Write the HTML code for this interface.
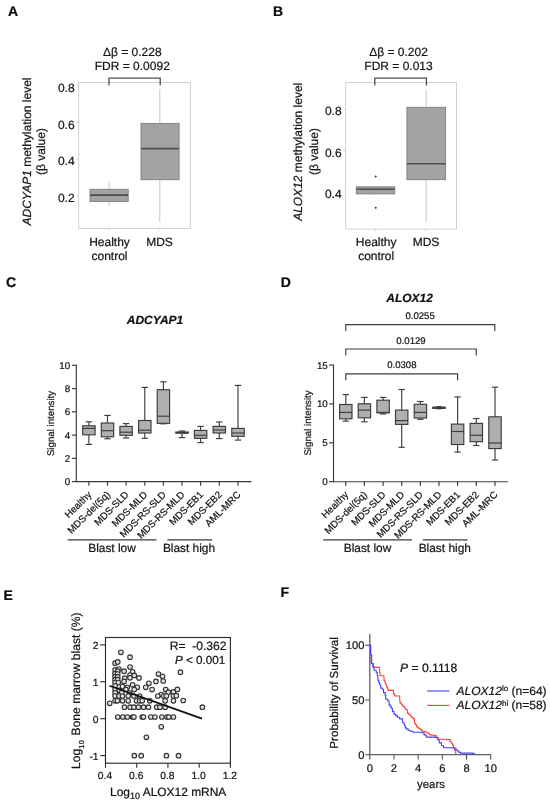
<!DOCTYPE html>
<html lang="en">
<head>
<meta charset="utf-8">
<title>Figure</title>
<style>
html,body{margin:0;padding:0;background:#fff;}
body{width:550px;height:804px;overflow:hidden;}
text{text-rendering:geometricPrecision;stroke:#141414;stroke-width:0.22px;paint-order:stroke fill;}
svg{display:block;font-family:'Liberation Sans', sans-serif;}
</style>
</head>
<body>
<svg width="550" height="804" viewBox="0 0 550 804" style="font-family:'Liberation Sans', sans-serif">
<rect x="0" y="0" width="550" height="804" fill="#ffffff"/>
<text x="8.0" y="15.8" font-size="14" font-weight="bold" fill="#0a0a0a">A</text>
<text x="273.0" y="15.8" font-size="14" font-weight="bold" fill="#0a0a0a">B</text>
<text x="5.9" y="286.7" font-size="14" font-weight="bold" fill="#0a0a0a">C</text>
<text x="280.8" y="286.7" font-size="14" font-weight="bold" fill="#0a0a0a">D</text>
<text x="3.5" y="599.9" font-size="14" font-weight="bold" fill="#0a0a0a">E</text>
<text x="280.5" y="596.9" font-size="14" font-weight="bold" fill="#0a0a0a">F</text>
<rect x="78.7" y="82.5" width="111.7" height="146.1" fill="none" stroke="#cdcdcd" stroke-width="0.9"/>
<line x1="76.8" y1="85.8" x2="78.7" y2="85.8" stroke="#cdcdcd" stroke-width="0.9"/>
<text x="74.6" y="91.9" font-size="12" text-anchor="end" fill="#141414">0.8</text>
<line x1="76.8" y1="122.5" x2="78.7" y2="122.5" stroke="#cdcdcd" stroke-width="0.9"/>
<text x="74.6" y="128.6" font-size="12" text-anchor="end" fill="#141414">0.6</text>
<line x1="76.8" y1="159.2" x2="78.7" y2="159.2" stroke="#cdcdcd" stroke-width="0.9"/>
<text x="74.6" y="165.3" font-size="12" text-anchor="end" fill="#141414">0.4</text>
<line x1="76.8" y1="195.9" x2="78.7" y2="195.9" stroke="#cdcdcd" stroke-width="0.9"/>
<text x="74.6" y="202.0" font-size="12" text-anchor="end" fill="#141414">0.2</text>
<line x1="109.2" y1="182.4" x2="109.2" y2="189.3" stroke="#c6c6c6" stroke-width="1"/>
<line x1="109.2" y1="201.5" x2="109.2" y2="206.6" stroke="#c6c6c6" stroke-width="1"/>
<rect x="90.0" y="189.3" width="38.2" height="12.2" fill="#a3a3a3" stroke="#7f7f7f" stroke-width="0.9"/>
<line x1="90.0" y1="195.1" x2="128.2" y2="195.1" stroke="#4d4d4d" stroke-width="1.6"/>
<line x1="109.2" y1="228.6" x2="109.2" y2="230.5" stroke="#cdcdcd" stroke-width="0.9"/>
<line x1="159.8" y1="89.0" x2="159.8" y2="123.4" stroke="#c6c6c6" stroke-width="1"/>
<line x1="159.8" y1="179.7" x2="159.8" y2="222.3" stroke="#c6c6c6" stroke-width="1"/>
<rect x="141.0" y="123.4" width="38.1" height="56.3" fill="#a3a3a3" stroke="#7f7f7f" stroke-width="0.9"/>
<line x1="141.0" y1="148.6" x2="179.1" y2="148.6" stroke="#4d4d4d" stroke-width="1.6"/>
<line x1="159.8" y1="228.6" x2="159.8" y2="230.5" stroke="#cdcdcd" stroke-width="0.9"/>
<text x="109.5" y="245.7" font-size="12" text-anchor="middle" fill="#141414">Healthy</text>
<text x="109.5" y="259.9" font-size="12" text-anchor="middle" fill="#141414">control</text>
<text x="159.5" y="245.7" font-size="12" text-anchor="middle" fill="#141414">MDS</text>
<text x="132.3" y="55.8" font-size="12" text-anchor="middle" fill="#141414">Δβ = 0.228</text>
<text x="132.3" y="70.4" font-size="12" text-anchor="middle" fill="#141414">FDR = 0.0092</text>
<path d="M109.0 85.4 V78.2 H160.2 V85.4" fill="none" stroke="#505050" stroke-width="1.3"/>
<text x="31.4" y="151.5" font-size="12" text-anchor="middle" fill="#141414" transform="rotate(-90 31.4 151.5)"><tspan font-style="italic">ADCYAP1</tspan> methylation level</text>
<text x="44.8" y="151.5" font-size="12" text-anchor="middle" fill="#141414" transform="rotate(-90 44.8 151.5)">(β value)</text>
<rect x="345.7" y="82.6" width="110.8" height="146.5" fill="none" stroke="#cdcdcd" stroke-width="0.9"/>
<line x1="343.8" y1="109.2" x2="345.7" y2="109.2" stroke="#cdcdcd" stroke-width="0.9"/>
<text x="341.6" y="115.3" font-size="12" text-anchor="end" fill="#141414">0.8</text>
<line x1="343.8" y1="150.6" x2="345.7" y2="150.6" stroke="#cdcdcd" stroke-width="0.9"/>
<text x="341.6" y="156.7" font-size="12" text-anchor="end" fill="#141414">0.6</text>
<line x1="343.8" y1="192.1" x2="345.7" y2="192.1" stroke="#cdcdcd" stroke-width="0.9"/>
<text x="341.6" y="198.2" font-size="12" text-anchor="end" fill="#141414">0.4</text>
<line x1="375.6" y1="185.8" x2="375.6" y2="186.8" stroke="#c6c6c6" stroke-width="1"/>
<line x1="375.6" y1="193.9" x2="375.6" y2="195.0" stroke="#c6c6c6" stroke-width="1"/>
<rect x="356.3" y="186.8" width="38.5" height="7.1" fill="#a3a3a3" stroke="#7f7f7f" stroke-width="0.9"/>
<line x1="356.3" y1="189.3" x2="394.8" y2="189.3" stroke="#4d4d4d" stroke-width="1.6"/>
<line x1="375.6" y1="229.1" x2="375.6" y2="231.0" stroke="#cdcdcd" stroke-width="0.9"/>
<line x1="426.2" y1="89.6" x2="426.2" y2="107.3" stroke="#c6c6c6" stroke-width="1"/>
<line x1="426.2" y1="179.7" x2="426.2" y2="222.4" stroke="#c6c6c6" stroke-width="1"/>
<rect x="406.9" y="107.3" width="38.7" height="72.4" fill="#a3a3a3" stroke="#7f7f7f" stroke-width="0.9"/>
<line x1="406.9" y1="163.8" x2="445.6" y2="163.8" stroke="#4d4d4d" stroke-width="1.6"/>
<line x1="426.2" y1="229.1" x2="426.2" y2="231.0" stroke="#cdcdcd" stroke-width="0.9"/>
<circle cx="375.7" cy="176.5" r="1.0" fill="#333"/>
<circle cx="375.7" cy="207.8" r="1.0" fill="#333"/>
<text x="376.2" y="245.7" font-size="12" text-anchor="middle" fill="#141414">Healthy</text>
<text x="376.2" y="259.9" font-size="12" text-anchor="middle" fill="#141414">control</text>
<text x="426" y="245.7" font-size="12" text-anchor="middle" fill="#141414">MDS</text>
<text x="398.5" y="55.8" font-size="12" text-anchor="middle" fill="#141414">Δβ = 0.202</text>
<text x="398.5" y="70.4" font-size="12" text-anchor="middle" fill="#141414">FDR = 0.013</text>
<path d="M374.8 85.4 V78.2 H426.4 V85.4" fill="none" stroke="#505050" stroke-width="1.3"/>
<text x="302.5" y="151.8" font-size="12" text-anchor="middle" fill="#141414" transform="rotate(-90 302.5 151.8)"><tspan font-style="italic">ALOX12</tspan> methylation level</text>
<text x="318.2" y="151.5" font-size="12" text-anchor="middle" fill="#141414" transform="rotate(-90 318.2 151.5)">(β value)</text>
<line x1="76.3" y1="364.8" x2="76.3" y2="482.1" stroke="#3c3c3c" stroke-width="1.15"/>
<line x1="75.8" y1="481.6" x2="251.4" y2="481.6" stroke="#3c3c3c" stroke-width="1.15"/>
<line x1="71.9" y1="365.3" x2="76.3" y2="365.3" stroke="#3c3c3c" stroke-width="1.15"/>
<text x="70.1" y="368.7" font-size="9.8" text-anchor="end" fill="#141414">10</text>
<line x1="71.9" y1="388.6" x2="76.3" y2="388.6" stroke="#3c3c3c" stroke-width="1.15"/>
<text x="70.1" y="392.0" font-size="9.8" text-anchor="end" fill="#141414">8</text>
<line x1="71.9" y1="411.8" x2="76.3" y2="411.8" stroke="#3c3c3c" stroke-width="1.15"/>
<text x="70.1" y="415.2" font-size="9.8" text-anchor="end" fill="#141414">6</text>
<line x1="71.9" y1="435.1" x2="76.3" y2="435.1" stroke="#3c3c3c" stroke-width="1.15"/>
<text x="70.1" y="438.5" font-size="9.8" text-anchor="end" fill="#141414">4</text>
<line x1="71.9" y1="458.3" x2="76.3" y2="458.3" stroke="#3c3c3c" stroke-width="1.15"/>
<text x="70.1" y="461.7" font-size="9.8" text-anchor="end" fill="#141414">2</text>
<line x1="71.9" y1="481.6" x2="76.3" y2="481.6" stroke="#3c3c3c" stroke-width="1.15"/>
<text x="70.1" y="485.0" font-size="9.8" text-anchor="end" fill="#141414">0</text>
<text x="54" y="423.5" font-size="9.7" text-anchor="middle" fill="#141414" transform="rotate(-90 54 423.5)">Signal intensity</text>
<text x="155.0" y="324.4" font-size="12.0" text-anchor="middle" font-weight="bold" font-style="italic" fill="#111">ADCYAP1</text>
<line x1="88.9" y1="481.6" x2="88.9" y2="485.8" stroke="#3c3c3c" stroke-width="1.15"/>
<line x1="107.5" y1="481.6" x2="107.5" y2="485.8" stroke="#3c3c3c" stroke-width="1.15"/>
<line x1="126.1" y1="481.6" x2="126.1" y2="485.8" stroke="#3c3c3c" stroke-width="1.15"/>
<line x1="144.8" y1="481.6" x2="144.8" y2="485.8" stroke="#3c3c3c" stroke-width="1.15"/>
<line x1="163.4" y1="481.6" x2="163.4" y2="485.8" stroke="#3c3c3c" stroke-width="1.15"/>
<line x1="182.0" y1="481.6" x2="182.0" y2="485.8" stroke="#3c3c3c" stroke-width="1.15"/>
<line x1="200.6" y1="481.6" x2="200.6" y2="485.8" stroke="#3c3c3c" stroke-width="1.15"/>
<line x1="219.3" y1="481.6" x2="219.3" y2="485.8" stroke="#3c3c3c" stroke-width="1.15"/>
<line x1="238.0" y1="481.6" x2="238.0" y2="485.8" stroke="#3c3c3c" stroke-width="1.15"/>
<line x1="88.9" y1="421.8" x2="88.9" y2="425.8" stroke="#3c3c3c" stroke-width="1.15"/>
<line x1="88.9" y1="434.8" x2="88.9" y2="444.4" stroke="#3c3c3c" stroke-width="1.15"/>
<line x1="85.7" y1="421.8" x2="92.1" y2="421.8" stroke="#3c3c3c" stroke-width="1.15"/>
<line x1="85.7" y1="444.4" x2="92.1" y2="444.4" stroke="#3c3c3c" stroke-width="1.15"/>
<rect x="82.7" y="425.8" width="12.4" height="9.0" fill="#afafaf" stroke="#3c3c3c" stroke-width="1.15"/>
<line x1="82.7" y1="428.4" x2="95.1" y2="428.4" stroke="#3c3c3c" stroke-width="1.15"/>
<line x1="107.5" y1="415.4" x2="107.5" y2="423.0" stroke="#3c3c3c" stroke-width="1.15"/>
<line x1="107.5" y1="436.8" x2="107.5" y2="438.8" stroke="#3c3c3c" stroke-width="1.15"/>
<line x1="104.3" y1="415.4" x2="110.7" y2="415.4" stroke="#3c3c3c" stroke-width="1.15"/>
<line x1="104.3" y1="438.8" x2="110.7" y2="438.8" stroke="#3c3c3c" stroke-width="1.15"/>
<rect x="101.3" y="423.0" width="12.4" height="13.8" fill="#afafaf" stroke="#3c3c3c" stroke-width="1.15"/>
<line x1="101.3" y1="430.7" x2="113.7" y2="430.7" stroke="#3c3c3c" stroke-width="1.15"/>
<line x1="126.1" y1="423.6" x2="126.1" y2="426.4" stroke="#3c3c3c" stroke-width="1.15"/>
<line x1="126.1" y1="435.3" x2="126.1" y2="438.0" stroke="#3c3c3c" stroke-width="1.15"/>
<line x1="122.9" y1="423.6" x2="129.3" y2="423.6" stroke="#3c3c3c" stroke-width="1.15"/>
<line x1="122.9" y1="438.0" x2="129.3" y2="438.0" stroke="#3c3c3c" stroke-width="1.15"/>
<rect x="119.9" y="426.4" width="12.4" height="8.9" fill="#afafaf" stroke="#3c3c3c" stroke-width="1.15"/>
<line x1="119.9" y1="432.2" x2="132.3" y2="432.2" stroke="#3c3c3c" stroke-width="1.15"/>
<line x1="144.8" y1="387.4" x2="144.8" y2="420.5" stroke="#3c3c3c" stroke-width="1.15"/>
<line x1="144.8" y1="433.0" x2="144.8" y2="438.3" stroke="#3c3c3c" stroke-width="1.15"/>
<line x1="141.6" y1="387.4" x2="148.0" y2="387.4" stroke="#3c3c3c" stroke-width="1.15"/>
<line x1="141.6" y1="438.3" x2="148.0" y2="438.3" stroke="#3c3c3c" stroke-width="1.15"/>
<rect x="138.6" y="420.5" width="12.4" height="12.5" fill="#afafaf" stroke="#3c3c3c" stroke-width="1.15"/>
<line x1="138.6" y1="430.2" x2="151.0" y2="430.2" stroke="#3c3c3c" stroke-width="1.15"/>
<line x1="163.4" y1="381.8" x2="163.4" y2="389.7" stroke="#3c3c3c" stroke-width="1.15"/>
<line x1="163.4" y1="423.3" x2="163.4" y2="423.8" stroke="#3c3c3c" stroke-width="1.15"/>
<line x1="160.2" y1="381.8" x2="166.6" y2="381.8" stroke="#3c3c3c" stroke-width="1.15"/>
<line x1="160.2" y1="423.8" x2="166.6" y2="423.8" stroke="#3c3c3c" stroke-width="1.15"/>
<rect x="157.2" y="389.7" width="12.4" height="33.6" fill="#afafaf" stroke="#3c3c3c" stroke-width="1.15"/>
<line x1="157.2" y1="416.2" x2="169.6" y2="416.2" stroke="#3c3c3c" stroke-width="1.15"/>
<line x1="182.0" y1="431.0" x2="182.0" y2="432.0" stroke="#3c3c3c" stroke-width="1.15"/>
<line x1="182.0" y1="433.2" x2="182.0" y2="437.6" stroke="#3c3c3c" stroke-width="1.15"/>
<line x1="178.8" y1="431.0" x2="185.2" y2="431.0" stroke="#3c3c3c" stroke-width="1.15"/>
<line x1="178.8" y1="437.6" x2="185.2" y2="437.6" stroke="#3c3c3c" stroke-width="1.15"/>
<rect x="175.8" y="432.0" width="12.4" height="1.2" fill="#afafaf" stroke="#3c3c3c" stroke-width="1.15"/>
<line x1="175.8" y1="432.6" x2="188.2" y2="432.6" stroke="#3c3c3c" stroke-width="1.15"/>
<line x1="200.6" y1="426.4" x2="200.6" y2="430.4" stroke="#3c3c3c" stroke-width="1.15"/>
<line x1="200.6" y1="438.3" x2="200.6" y2="442.6" stroke="#3c3c3c" stroke-width="1.15"/>
<line x1="197.4" y1="426.4" x2="203.8" y2="426.4" stroke="#3c3c3c" stroke-width="1.15"/>
<line x1="197.4" y1="442.6" x2="203.8" y2="442.6" stroke="#3c3c3c" stroke-width="1.15"/>
<rect x="194.4" y="430.4" width="12.4" height="7.9" fill="#afafaf" stroke="#3c3c3c" stroke-width="1.15"/>
<line x1="194.4" y1="435.3" x2="206.8" y2="435.3" stroke="#3c3c3c" stroke-width="1.15"/>
<line x1="219.3" y1="422.0" x2="219.3" y2="426.4" stroke="#3c3c3c" stroke-width="1.15"/>
<line x1="219.3" y1="433.0" x2="219.3" y2="438.6" stroke="#3c3c3c" stroke-width="1.15"/>
<line x1="216.1" y1="422.0" x2="222.5" y2="422.0" stroke="#3c3c3c" stroke-width="1.15"/>
<line x1="216.1" y1="438.6" x2="222.5" y2="438.6" stroke="#3c3c3c" stroke-width="1.15"/>
<rect x="213.1" y="426.4" width="12.4" height="6.6" fill="#afafaf" stroke="#3c3c3c" stroke-width="1.15"/>
<line x1="213.1" y1="430.0" x2="225.5" y2="430.0" stroke="#3c3c3c" stroke-width="1.15"/>
<line x1="238.0" y1="385.4" x2="238.0" y2="428.4" stroke="#3c3c3c" stroke-width="1.15"/>
<line x1="238.0" y1="436.3" x2="238.0" y2="440.1" stroke="#3c3c3c" stroke-width="1.15"/>
<line x1="234.8" y1="385.4" x2="241.2" y2="385.4" stroke="#3c3c3c" stroke-width="1.15"/>
<line x1="234.8" y1="440.1" x2="241.2" y2="440.1" stroke="#3c3c3c" stroke-width="1.15"/>
<rect x="231.8" y="428.4" width="12.4" height="7.9" fill="#afafaf" stroke="#3c3c3c" stroke-width="1.15"/>
<line x1="231.8" y1="433.0" x2="244.2" y2="433.0" stroke="#3c3c3c" stroke-width="1.15"/>
<text x="92.1" y="495.2" font-size="9.75" text-anchor="end" fill="#141414" transform="rotate(-45 92.1 495.2)">Healthy</text>
<text x="110.7" y="495.2" font-size="9.75" text-anchor="end" fill="#141414" transform="rotate(-45 110.7 495.2)">MDS-del(5q)</text>
<text x="129.3" y="495.2" font-size="9.75" text-anchor="end" fill="#141414" transform="rotate(-45 129.3 495.2)">MDS-SLD</text>
<text x="148.0" y="495.2" font-size="9.75" text-anchor="end" fill="#141414" transform="rotate(-45 148.0 495.2)">MDS-MLD</text>
<text x="166.6" y="495.2" font-size="9.75" text-anchor="end" fill="#141414" transform="rotate(-45 166.6 495.2)">MDS-RS-SLD</text>
<text x="185.2" y="495.2" font-size="9.75" text-anchor="end" fill="#141414" transform="rotate(-45 185.2 495.2)">MDS-RS-MLD</text>
<text x="203.8" y="495.2" font-size="9.75" text-anchor="end" fill="#141414" transform="rotate(-45 203.8 495.2)">MDS-EB1</text>
<text x="222.5" y="495.2" font-size="9.75" text-anchor="end" fill="#141414" transform="rotate(-45 222.5 495.2)">MDS-EB2</text>
<text x="241.2" y="495.2" font-size="9.75" text-anchor="end" fill="#141414" transform="rotate(-45 241.2 495.2)">AML-MRC</text>
<line x1="67.6" y1="539.9" x2="156.5" y2="539.9" stroke="#3c3c3c" stroke-width="1.15"/>
<text x="112" y="551.8" font-size="11.9" text-anchor="middle" fill="#141414">Blast low</text>
<line x1="167.3" y1="539.9" x2="212.2" y2="539.9" stroke="#3c3c3c" stroke-width="1.15"/>
<text x="189" y="551.8" font-size="11.9" text-anchor="middle" fill="#141414">Blast high</text>
<line x1="333.5" y1="364.5" x2="333.5" y2="482.2" stroke="#3c3c3c" stroke-width="1.15"/>
<line x1="333.0" y1="481.7" x2="508.0" y2="481.7" stroke="#3c3c3c" stroke-width="1.15"/>
<line x1="329.1" y1="365.1" x2="333.5" y2="365.1" stroke="#3c3c3c" stroke-width="1.15"/>
<text x="327.8" y="368.5" font-size="9.8" text-anchor="end" fill="#141414">15</text>
<line x1="329.1" y1="403.9" x2="333.5" y2="403.9" stroke="#3c3c3c" stroke-width="1.15"/>
<text x="327.8" y="407.3" font-size="9.8" text-anchor="end" fill="#141414">10</text>
<line x1="329.1" y1="442.8" x2="333.5" y2="442.8" stroke="#3c3c3c" stroke-width="1.15"/>
<text x="327.8" y="446.2" font-size="9.8" text-anchor="end" fill="#141414">5</text>
<line x1="329.1" y1="481.7" x2="333.5" y2="481.7" stroke="#3c3c3c" stroke-width="1.15"/>
<text x="327.8" y="485.1" font-size="9.8" text-anchor="end" fill="#141414">0</text>
<text x="310.5" y="423" font-size="9.7" text-anchor="middle" fill="#141414" transform="rotate(-90 310.5 423)">Signal intensity</text>
<text x="409.6" y="302.0" font-size="12.0" text-anchor="middle" font-weight="bold" font-style="italic" fill="#111">ALOX12</text>
<line x1="345.8" y1="481.7" x2="345.8" y2="485.9" stroke="#3c3c3c" stroke-width="1.15"/>
<line x1="364.4" y1="481.7" x2="364.4" y2="485.9" stroke="#3c3c3c" stroke-width="1.15"/>
<line x1="383.1" y1="481.7" x2="383.1" y2="485.9" stroke="#3c3c3c" stroke-width="1.15"/>
<line x1="401.7" y1="481.7" x2="401.7" y2="485.9" stroke="#3c3c3c" stroke-width="1.15"/>
<line x1="420.4" y1="481.7" x2="420.4" y2="485.9" stroke="#3c3c3c" stroke-width="1.15"/>
<line x1="439.0" y1="481.7" x2="439.0" y2="485.9" stroke="#3c3c3c" stroke-width="1.15"/>
<line x1="457.6" y1="481.7" x2="457.6" y2="485.9" stroke="#3c3c3c" stroke-width="1.15"/>
<line x1="476.3" y1="481.7" x2="476.3" y2="485.9" stroke="#3c3c3c" stroke-width="1.15"/>
<line x1="495.0" y1="481.7" x2="495.0" y2="485.9" stroke="#3c3c3c" stroke-width="1.15"/>
<line x1="345.8" y1="394.6" x2="345.8" y2="404.5" stroke="#3c3c3c" stroke-width="1.15"/>
<line x1="345.8" y1="418.8" x2="345.8" y2="421.1" stroke="#3c3c3c" stroke-width="1.15"/>
<line x1="342.6" y1="394.6" x2="349.0" y2="394.6" stroke="#3c3c3c" stroke-width="1.15"/>
<line x1="342.6" y1="421.1" x2="349.0" y2="421.1" stroke="#3c3c3c" stroke-width="1.15"/>
<rect x="339.6" y="404.5" width="12.4" height="14.3" fill="#afafaf" stroke="#3c3c3c" stroke-width="1.15"/>
<line x1="339.6" y1="412.4" x2="352.0" y2="412.4" stroke="#3c3c3c" stroke-width="1.15"/>
<line x1="364.4" y1="397.4" x2="364.4" y2="403.8" stroke="#3c3c3c" stroke-width="1.15"/>
<line x1="364.4" y1="417.8" x2="364.4" y2="421.8" stroke="#3c3c3c" stroke-width="1.15"/>
<line x1="361.2" y1="397.4" x2="367.6" y2="397.4" stroke="#3c3c3c" stroke-width="1.15"/>
<line x1="361.2" y1="421.8" x2="367.6" y2="421.8" stroke="#3c3c3c" stroke-width="1.15"/>
<rect x="358.2" y="403.8" width="12.4" height="14.0" fill="#afafaf" stroke="#3c3c3c" stroke-width="1.15"/>
<line x1="358.2" y1="410.1" x2="370.6" y2="410.1" stroke="#3c3c3c" stroke-width="1.15"/>
<line x1="383.1" y1="397.4" x2="383.1" y2="400.2" stroke="#3c3c3c" stroke-width="1.15"/>
<line x1="383.1" y1="412.9" x2="383.1" y2="414.0" stroke="#3c3c3c" stroke-width="1.15"/>
<line x1="379.9" y1="397.4" x2="386.3" y2="397.4" stroke="#3c3c3c" stroke-width="1.15"/>
<line x1="379.9" y1="414.0" x2="386.3" y2="414.0" stroke="#3c3c3c" stroke-width="1.15"/>
<rect x="376.9" y="400.2" width="12.4" height="12.7" fill="#afafaf" stroke="#3c3c3c" stroke-width="1.15"/>
<line x1="376.9" y1="412.4" x2="389.3" y2="412.4" stroke="#3c3c3c" stroke-width="1.15"/>
<line x1="401.7" y1="389.5" x2="401.7" y2="410.1" stroke="#3c3c3c" stroke-width="1.15"/>
<line x1="401.7" y1="424.4" x2="401.7" y2="447.3" stroke="#3c3c3c" stroke-width="1.15"/>
<line x1="398.5" y1="389.5" x2="404.9" y2="389.5" stroke="#3c3c3c" stroke-width="1.15"/>
<line x1="398.5" y1="447.3" x2="404.9" y2="447.3" stroke="#3c3c3c" stroke-width="1.15"/>
<rect x="395.5" y="410.1" width="12.4" height="14.3" fill="#afafaf" stroke="#3c3c3c" stroke-width="1.15"/>
<line x1="395.5" y1="420.6" x2="407.9" y2="420.6" stroke="#3c3c3c" stroke-width="1.15"/>
<line x1="420.4" y1="401.5" x2="420.4" y2="404.3" stroke="#3c3c3c" stroke-width="1.15"/>
<line x1="420.4" y1="418.0" x2="420.4" y2="419.3" stroke="#3c3c3c" stroke-width="1.15"/>
<line x1="417.2" y1="401.5" x2="423.6" y2="401.5" stroke="#3c3c3c" stroke-width="1.15"/>
<line x1="417.2" y1="419.3" x2="423.6" y2="419.3" stroke="#3c3c3c" stroke-width="1.15"/>
<rect x="414.2" y="404.3" width="12.4" height="13.7" fill="#afafaf" stroke="#3c3c3c" stroke-width="1.15"/>
<line x1="414.2" y1="412.4" x2="426.6" y2="412.4" stroke="#3c3c3c" stroke-width="1.15"/>
<line x1="439.0" y1="406.6" x2="439.0" y2="407.1" stroke="#3c3c3c" stroke-width="1.15"/>
<line x1="439.0" y1="408.4" x2="439.0" y2="408.8" stroke="#3c3c3c" stroke-width="1.15"/>
<line x1="436.6" y1="406.6" x2="441.4" y2="406.6" stroke="#3c3c3c" stroke-width="1.15"/>
<line x1="436.6" y1="408.8" x2="441.4" y2="408.8" stroke="#3c3c3c" stroke-width="1.15"/>
<rect x="432.8" y="407.1" width="12.4" height="1.3" fill="#afafaf" stroke="#3c3c3c" stroke-width="1.15"/>
<line x1="432.8" y1="407.7" x2="445.2" y2="407.7" stroke="#3c3c3c" stroke-width="1.15"/>
<line x1="457.6" y1="396.9" x2="457.6" y2="424.1" stroke="#3c3c3c" stroke-width="1.15"/>
<line x1="457.6" y1="444.5" x2="457.6" y2="452.1" stroke="#3c3c3c" stroke-width="1.15"/>
<line x1="454.4" y1="396.9" x2="460.8" y2="396.9" stroke="#3c3c3c" stroke-width="1.15"/>
<line x1="454.4" y1="452.1" x2="460.8" y2="452.1" stroke="#3c3c3c" stroke-width="1.15"/>
<rect x="451.4" y="424.1" width="12.4" height="20.4" fill="#afafaf" stroke="#3c3c3c" stroke-width="1.15"/>
<line x1="451.4" y1="431.5" x2="463.8" y2="431.5" stroke="#3c3c3c" stroke-width="1.15"/>
<line x1="476.3" y1="418.5" x2="476.3" y2="423.4" stroke="#3c3c3c" stroke-width="1.15"/>
<line x1="476.3" y1="441.7" x2="476.3" y2="445.5" stroke="#3c3c3c" stroke-width="1.15"/>
<line x1="473.1" y1="418.5" x2="479.5" y2="418.5" stroke="#3c3c3c" stroke-width="1.15"/>
<line x1="473.1" y1="445.5" x2="479.5" y2="445.5" stroke="#3c3c3c" stroke-width="1.15"/>
<rect x="470.1" y="423.4" width="12.4" height="18.3" fill="#afafaf" stroke="#3c3c3c" stroke-width="1.15"/>
<line x1="470.1" y1="435.3" x2="482.5" y2="435.3" stroke="#3c3c3c" stroke-width="1.15"/>
<line x1="495.0" y1="387.2" x2="495.0" y2="416.8" stroke="#3c3c3c" stroke-width="1.15"/>
<line x1="495.0" y1="448.6" x2="495.0" y2="460.0" stroke="#3c3c3c" stroke-width="1.15"/>
<line x1="491.8" y1="387.2" x2="498.2" y2="387.2" stroke="#3c3c3c" stroke-width="1.15"/>
<line x1="491.8" y1="460.0" x2="498.2" y2="460.0" stroke="#3c3c3c" stroke-width="1.15"/>
<rect x="488.8" y="416.8" width="12.4" height="31.8" fill="#afafaf" stroke="#3c3c3c" stroke-width="1.15"/>
<line x1="488.8" y1="443.0" x2="501.2" y2="443.0" stroke="#3c3c3c" stroke-width="1.15"/>
<text x="349.0" y="495.3" font-size="9.75" text-anchor="end" fill="#141414" transform="rotate(-45 349.0 495.3)">Healthy</text>
<text x="367.6" y="495.3" font-size="9.75" text-anchor="end" fill="#141414" transform="rotate(-45 367.6 495.3)">MDS-del(5q)</text>
<text x="386.3" y="495.3" font-size="9.75" text-anchor="end" fill="#141414" transform="rotate(-45 386.3 495.3)">MDS-SLD</text>
<text x="404.9" y="495.3" font-size="9.75" text-anchor="end" fill="#141414" transform="rotate(-45 404.9 495.3)">MDS-MLD</text>
<text x="423.6" y="495.3" font-size="9.75" text-anchor="end" fill="#141414" transform="rotate(-45 423.6 495.3)">MDS-RS-SLD</text>
<text x="442.2" y="495.3" font-size="9.75" text-anchor="end" fill="#141414" transform="rotate(-45 442.2 495.3)">MDS-RS-MLD</text>
<text x="460.8" y="495.3" font-size="9.75" text-anchor="end" fill="#141414" transform="rotate(-45 460.8 495.3)">MDS-EB1</text>
<text x="479.5" y="495.3" font-size="9.75" text-anchor="end" fill="#141414" transform="rotate(-45 479.5 495.3)">MDS-EB2</text>
<text x="498.2" y="495.3" font-size="9.75" text-anchor="end" fill="#141414" transform="rotate(-45 498.2 495.3)">AML-MRC</text>
<line x1="323.2" y1="539.9" x2="412.0" y2="539.9" stroke="#3c3c3c" stroke-width="1.15"/>
<text x="367.5" y="551.8" font-size="11.9" text-anchor="middle" fill="#141414">Blast low</text>
<line x1="422.8" y1="539.9" x2="467.4" y2="539.9" stroke="#3c3c3c" stroke-width="1.15"/>
<text x="444.8" y="551.8" font-size="11.9" text-anchor="middle" fill="#141414">Blast high</text>
<path d="M345.8 331.0 V324.6 H494.8 V331.0" fill="none" stroke="#3c3c3c" stroke-width="1.15"/>
<text x="420.1" y="319.0" font-size="9.6" text-anchor="middle" fill="#141414">0.0255</text>
<path d="M345.8 355.5 V349.0 H476.2 V355.5" fill="none" stroke="#3c3c3c" stroke-width="1.15"/>
<text x="411.0" y="343.5" font-size="9.6" text-anchor="middle" fill="#141414">0.0129</text>
<path d="M345.8 380.2 V373.8 H457.6 V380.2" fill="none" stroke="#3c3c3c" stroke-width="1.15"/>
<text x="401.8" y="367.8" font-size="9.6" text-anchor="middle" fill="#141414">0.0308</text>
<circle cx="120.9" cy="652.3" r="2.3" fill="#e2e2e2" stroke="#303030" stroke-width="1.1"/>
<circle cx="130.0" cy="657.2" r="2.3" fill="#e2e2e2" stroke="#303030" stroke-width="1.1"/>
<circle cx="115.1" cy="663.2" r="2.3" fill="#e2e2e2" stroke="#303030" stroke-width="1.1"/>
<circle cx="117.7" cy="661.9" r="2.3" fill="#e2e2e2" stroke="#303030" stroke-width="1.1"/>
<circle cx="130.0" cy="667.0" r="2.3" fill="#e2e2e2" stroke="#303030" stroke-width="1.1"/>
<circle cx="115.1" cy="669.9" r="2.3" fill="#e2e2e2" stroke="#303030" stroke-width="1.1"/>
<circle cx="118.9" cy="669.0" r="2.3" fill="#e2e2e2" stroke="#303030" stroke-width="1.1"/>
<circle cx="117.7" cy="671.2" r="2.3" fill="#e2e2e2" stroke="#303030" stroke-width="1.1"/>
<circle cx="124.1" cy="671.2" r="2.3" fill="#e2e2e2" stroke="#303030" stroke-width="1.1"/>
<circle cx="132.6" cy="671.8" r="2.3" fill="#e2e2e2" stroke="#303030" stroke-width="1.1"/>
<circle cx="115.1" cy="673.7" r="2.3" fill="#e2e2e2" stroke="#303030" stroke-width="1.1"/>
<circle cx="117.7" cy="674.1" r="2.3" fill="#e2e2e2" stroke="#303030" stroke-width="1.1"/>
<circle cx="130.0" cy="675.0" r="2.3" fill="#e2e2e2" stroke="#303030" stroke-width="1.1"/>
<circle cx="134.3" cy="675.4" r="2.3" fill="#e2e2e2" stroke="#303030" stroke-width="1.1"/>
<circle cx="115.1" cy="676.7" r="2.3" fill="#e2e2e2" stroke="#303030" stroke-width="1.1"/>
<circle cx="117.7" cy="676.9" r="2.3" fill="#e2e2e2" stroke="#303030" stroke-width="1.1"/>
<circle cx="124.7" cy="678.2" r="2.3" fill="#e2e2e2" stroke="#303030" stroke-width="1.1"/>
<circle cx="130.0" cy="677.8" r="2.3" fill="#e2e2e2" stroke="#303030" stroke-width="1.1"/>
<circle cx="139.0" cy="677.9" r="2.3" fill="#e2e2e2" stroke="#303030" stroke-width="1.1"/>
<circle cx="115.1" cy="679.7" r="2.3" fill="#e2e2e2" stroke="#303030" stroke-width="1.1"/>
<circle cx="117.7" cy="679.7" r="2.3" fill="#e2e2e2" stroke="#303030" stroke-width="1.1"/>
<circle cx="124.1" cy="681.4" r="2.3" fill="#e2e2e2" stroke="#303030" stroke-width="1.1"/>
<circle cx="115.1" cy="682.6" r="2.3" fill="#e2e2e2" stroke="#303030" stroke-width="1.1"/>
<circle cx="118.3" cy="682.6" r="2.3" fill="#e2e2e2" stroke="#303030" stroke-width="1.1"/>
<circle cx="158.5" cy="674.1" r="2.3" fill="#e2e2e2" stroke="#303030" stroke-width="1.1"/>
<circle cx="162.5" cy="676.3" r="2.3" fill="#e2e2e2" stroke="#303030" stroke-width="1.1"/>
<circle cx="163.2" cy="681.0" r="2.3" fill="#e2e2e2" stroke="#303030" stroke-width="1.1"/>
<circle cx="155.9" cy="681.4" r="2.3" fill="#e2e2e2" stroke="#303030" stroke-width="1.1"/>
<circle cx="148.9" cy="683.3" r="2.3" fill="#e2e2e2" stroke="#303030" stroke-width="1.1"/>
<circle cx="132.6" cy="684.8" r="2.3" fill="#e2e2e2" stroke="#303030" stroke-width="1.1"/>
<circle cx="122.5" cy="686.5" r="2.3" fill="#e2e2e2" stroke="#303030" stroke-width="1.1"/>
<circle cx="127.3" cy="687.3" r="2.3" fill="#e2e2e2" stroke="#303030" stroke-width="1.1"/>
<circle cx="137.3" cy="687.3" r="2.3" fill="#e2e2e2" stroke="#303030" stroke-width="1.1"/>
<circle cx="145.7" cy="687.3" r="2.3" fill="#e2e2e2" stroke="#303030" stroke-width="1.1"/>
<circle cx="115.1" cy="685.8" r="2.3" fill="#e2e2e2" stroke="#303030" stroke-width="1.1"/>
<circle cx="125.9" cy="689.4" r="2.3" fill="#e2e2e2" stroke="#303030" stroke-width="1.1"/>
<circle cx="134.2" cy="689.6" r="2.3" fill="#e2e2e2" stroke="#303030" stroke-width="1.1"/>
<circle cx="152.1" cy="689.6" r="2.3" fill="#e2e2e2" stroke="#303030" stroke-width="1.1"/>
<circle cx="165.7" cy="689.6" r="2.3" fill="#e2e2e2" stroke="#303030" stroke-width="1.1"/>
<circle cx="115.1" cy="689.6" r="2.3" fill="#e2e2e2" stroke="#303030" stroke-width="1.1"/>
<circle cx="119.3" cy="690.3" r="2.3" fill="#e2e2e2" stroke="#303030" stroke-width="1.1"/>
<circle cx="168.3" cy="692.2" r="2.3" fill="#e2e2e2" stroke="#303030" stroke-width="1.1"/>
<circle cx="173.4" cy="691.9" r="2.3" fill="#e2e2e2" stroke="#303030" stroke-width="1.1"/>
<circle cx="115.1" cy="692.8" r="2.3" fill="#e2e2e2" stroke="#303030" stroke-width="1.1"/>
<circle cx="121.8" cy="692.4" r="2.3" fill="#e2e2e2" stroke="#303030" stroke-width="1.1"/>
<circle cx="129.5" cy="692.8" r="2.3" fill="#e2e2e2" stroke="#303030" stroke-width="1.1"/>
<circle cx="161.3" cy="694.5" r="2.3" fill="#e2e2e2" stroke="#303030" stroke-width="1.1"/>
<circle cx="115.1" cy="696.0" r="2.3" fill="#e2e2e2" stroke="#303030" stroke-width="1.1"/>
<circle cx="119.0" cy="696.0" r="2.3" fill="#e2e2e2" stroke="#303030" stroke-width="1.1"/>
<circle cx="122.5" cy="696.0" r="2.3" fill="#e2e2e2" stroke="#303030" stroke-width="1.1"/>
<circle cx="128.2" cy="696.0" r="2.3" fill="#e2e2e2" stroke="#303030" stroke-width="1.1"/>
<circle cx="133.9" cy="696.0" r="2.3" fill="#e2e2e2" stroke="#303030" stroke-width="1.1"/>
<circle cx="139.6" cy="696.0" r="2.3" fill="#e2e2e2" stroke="#303030" stroke-width="1.1"/>
<circle cx="157.8" cy="696.0" r="2.3" fill="#e2e2e2" stroke="#303030" stroke-width="1.1"/>
<circle cx="163.8" cy="696.0" r="2.3" fill="#e2e2e2" stroke="#303030" stroke-width="1.1"/>
<circle cx="166.4" cy="696.0" r="2.3" fill="#e2e2e2" stroke="#303030" stroke-width="1.1"/>
<circle cx="173.4" cy="696.0" r="2.3" fill="#e2e2e2" stroke="#303030" stroke-width="1.1"/>
<circle cx="109.7" cy="703.3" r="2.3" fill="#e2e2e2" stroke="#303030" stroke-width="1.1"/>
<circle cx="115.1" cy="700.8" r="2.3" fill="#e2e2e2" stroke="#303030" stroke-width="1.1"/>
<circle cx="117.4" cy="700.8" r="2.3" fill="#e2e2e2" stroke="#303030" stroke-width="1.1"/>
<circle cx="122.5" cy="700.8" r="2.3" fill="#e2e2e2" stroke="#303030" stroke-width="1.1"/>
<circle cx="128.2" cy="700.8" r="2.3" fill="#e2e2e2" stroke="#303030" stroke-width="1.1"/>
<circle cx="136.5" cy="700.8" r="2.3" fill="#e2e2e2" stroke="#303030" stroke-width="1.1"/>
<circle cx="139.6" cy="700.8" r="2.3" fill="#e2e2e2" stroke="#303030" stroke-width="1.1"/>
<circle cx="142.2" cy="700.8" r="2.3" fill="#e2e2e2" stroke="#303030" stroke-width="1.1"/>
<circle cx="149.8" cy="700.8" r="2.3" fill="#e2e2e2" stroke="#303030" stroke-width="1.1"/>
<circle cx="165.1" cy="700.8" r="2.3" fill="#e2e2e2" stroke="#303030" stroke-width="1.1"/>
<circle cx="173.4" cy="700.8" r="2.3" fill="#e2e2e2" stroke="#303030" stroke-width="1.1"/>
<circle cx="124.4" cy="707.2" r="2.3" fill="#e2e2e2" stroke="#303030" stroke-width="1.1"/>
<circle cx="130.1" cy="707.2" r="2.3" fill="#e2e2e2" stroke="#303030" stroke-width="1.1"/>
<circle cx="133.9" cy="707.2" r="2.3" fill="#e2e2e2" stroke="#303030" stroke-width="1.1"/>
<circle cx="138.4" cy="707.2" r="2.3" fill="#e2e2e2" stroke="#303030" stroke-width="1.1"/>
<circle cx="143.5" cy="707.2" r="2.3" fill="#e2e2e2" stroke="#303030" stroke-width="1.1"/>
<circle cx="148.5" cy="707.2" r="2.3" fill="#e2e2e2" stroke="#303030" stroke-width="1.1"/>
<circle cx="156.8" cy="707.2" r="2.3" fill="#e2e2e2" stroke="#303030" stroke-width="1.1"/>
<circle cx="160.0" cy="707.2" r="2.3" fill="#e2e2e2" stroke="#303030" stroke-width="1.1"/>
<circle cx="165.1" cy="707.2" r="2.3" fill="#e2e2e2" stroke="#303030" stroke-width="1.1"/>
<circle cx="117.7" cy="717.0" r="2.3" fill="#e2e2e2" stroke="#303030" stroke-width="1.1"/>
<circle cx="122.8" cy="717.0" r="2.3" fill="#e2e2e2" stroke="#303030" stroke-width="1.1"/>
<circle cx="127.3" cy="717.0" r="2.3" fill="#e2e2e2" stroke="#303030" stroke-width="1.1"/>
<circle cx="132.6" cy="717.0" r="2.3" fill="#e2e2e2" stroke="#303030" stroke-width="1.1"/>
<circle cx="133.9" cy="717.0" r="2.3" fill="#e2e2e2" stroke="#303030" stroke-width="1.1"/>
<circle cx="142.2" cy="717.0" r="2.3" fill="#e2e2e2" stroke="#303030" stroke-width="1.1"/>
<circle cx="143.5" cy="717.0" r="2.3" fill="#e2e2e2" stroke="#303030" stroke-width="1.1"/>
<circle cx="150.8" cy="717.0" r="2.3" fill="#e2e2e2" stroke="#303030" stroke-width="1.1"/>
<circle cx="154.9" cy="717.0" r="2.3" fill="#e2e2e2" stroke="#303030" stroke-width="1.1"/>
<circle cx="161.9" cy="717.0" r="2.3" fill="#e2e2e2" stroke="#303030" stroke-width="1.1"/>
<circle cx="167.0" cy="717.0" r="2.3" fill="#e2e2e2" stroke="#303030" stroke-width="1.1"/>
<circle cx="168.9" cy="717.0" r="2.3" fill="#e2e2e2" stroke="#303030" stroke-width="1.1"/>
<circle cx="173.4" cy="717.0" r="2.3" fill="#e2e2e2" stroke="#303030" stroke-width="1.1"/>
<circle cx="161.3" cy="726.8" r="2.3" fill="#e2e2e2" stroke="#303030" stroke-width="1.1"/>
<circle cx="180.4" cy="672.2" r="2.3" fill="#e2e2e2" stroke="#303030" stroke-width="1.1"/>
<circle cx="177.4" cy="689.4" r="2.3" fill="#e2e2e2" stroke="#303030" stroke-width="1.1"/>
<circle cx="176.3" cy="695.7" r="2.3" fill="#e2e2e2" stroke="#303030" stroke-width="1.1"/>
<circle cx="183.2" cy="700.5" r="2.3" fill="#e2e2e2" stroke="#303030" stroke-width="1.1"/>
<circle cx="202.4" cy="707.2" r="2.3" fill="#e2e2e2" stroke="#303030" stroke-width="1.1"/>
<circle cx="134.3" cy="755.7" r="2.3" fill="#e2e2e2" stroke="#303030" stroke-width="1.1"/>
<circle cx="141.2" cy="755.7" r="2.3" fill="#e2e2e2" stroke="#303030" stroke-width="1.1"/>
<circle cx="166.4" cy="755.7" r="2.3" fill="#e2e2e2" stroke="#303030" stroke-width="1.1"/>
<circle cx="178.5" cy="755.7" r="2.3" fill="#e2e2e2" stroke="#303030" stroke-width="1.1"/>
<circle cx="146.4" cy="737.3" r="2.3" fill="#e2e2e2" stroke="#303030" stroke-width="1.1"/>
<rect x="105.5" y="637.5" width="124.9" height="125.7" fill="none" stroke="#2a2a2a" stroke-width="1.15"/>
<line x1="100.2" y1="644.9" x2="105.5" y2="644.9" stroke="#2a2a2a" stroke-width="1.1"/>
<text x="98.6" y="649.1" font-size="10.3" text-anchor="end" fill="#141414">2</text>
<line x1="100.2" y1="681.8" x2="105.5" y2="681.8" stroke="#2a2a2a" stroke-width="1.1"/>
<text x="98.6" y="686.0" font-size="10.3" text-anchor="end" fill="#141414">1</text>
<line x1="100.2" y1="718.7" x2="105.5" y2="718.7" stroke="#2a2a2a" stroke-width="1.1"/>
<text x="98.6" y="722.9" font-size="10.3" text-anchor="end" fill="#141414">0</text>
<line x1="100.2" y1="755.6" x2="105.5" y2="755.6" stroke="#2a2a2a" stroke-width="1.1"/>
<text x="98.6" y="759.8" font-size="10.3" text-anchor="end" fill="#141414">-1</text>
<line x1="105.5" y1="763.2" x2="105.5" y2="767.8" stroke="#2a2a2a" stroke-width="1.1"/>
<text x="105.0" y="779.3" font-size="10.3" text-anchor="middle" fill="#141414">0.4</text>
<line x1="136.72" y1="763.2" x2="136.72" y2="767.8" stroke="#2a2a2a" stroke-width="1.1"/>
<text x="136.22" y="779.3" font-size="10.3" text-anchor="middle" fill="#141414">0.6</text>
<line x1="167.94" y1="763.2" x2="167.94" y2="767.8" stroke="#2a2a2a" stroke-width="1.1"/>
<text x="167.44" y="779.3" font-size="10.3" text-anchor="middle" fill="#141414">0.8</text>
<line x1="199.16" y1="763.2" x2="199.16" y2="767.8" stroke="#2a2a2a" stroke-width="1.1"/>
<text x="198.66" y="779.3" font-size="10.3" text-anchor="middle" fill="#141414">1.0</text>
<line x1="230.38" y1="763.2" x2="230.38" y2="767.8" stroke="#2a2a2a" stroke-width="1.1"/>
<text x="229.88" y="779.3" font-size="10.3" text-anchor="middle" fill="#141414">1.2</text>
<line x1="109.6" y1="685.7" x2="202.0" y2="718.6" stroke="#0c0c0c" stroke-width="1.7"/>
<text x="110.1" y="796" font-size="11.95" fill="#141414">Log<tspan font-size="9" dy="3.2">10</tspan><tspan dy="-3.2"> ALOX12 mRNA</tspan></text>
<text x="80.5" y="690.7" font-size="12.1" text-anchor="middle" fill="#141414" transform="rotate(-90 80.5 690.7)">Log<tspan font-size="7.3" dy="3.1" letter-spacing="0.5">10</tspan><tspan dy="-3.1" dx="0.9"> Bone marrow blast (%)</tspan></text>
<text x="226.5" y="649.7" font-size="12.1" text-anchor="end" fill="#141414" xml:space="preserve">R=  -0.362</text>
<text x="225.3" y="664.4" font-size="11.7" text-anchor="end" fill="#141414"><tspan font-style="italic">P</tspan> &lt; 0.001</text>
<line x1="369.8" y1="633.8" x2="369.8" y2="755.3" stroke="#606060" stroke-width="1.3"/>
<line x1="369.2" y1="754.7" x2="491.0" y2="754.7" stroke="#606060" stroke-width="1.3"/>
<path d="M370.0 645.0 H370.6 V654.6 H371.7 V663.5 H373.4 V667.4 H377.9 V667.4 H379.6 V672.5 H380.1 V675.8 H383.5 V675.8 H384.0 V680.3 H384.9 V682.5 H385.7 V684.8 H386.6 V687.0 H387.4 V689.3 H388.5 V690.4 H392.4 V690.4 H393.5 V693.7 H394.7 V696.0 H398.6 V696.0 H399.7 V700.5 H400.0 V702.9 H401.5 V704.7 H402.9 V706.5 H404.4 V708.0 H405.8 V709.5 H407.3 V713.1 H408.7 V714.5 H410.2 V716.0 H411.6 V717.5 H413.1 V718.9 H414.5 V723.3 H415.7 V725.0 H416.7 V726.9 H418.2 V728.1 H419.6 V729.1 H421.1 V730.3 H422.5 V731.3 H424.7 V732.0 H426.9 V732.7 H428.4 V733.7 H429.8 V734.9 H432.0 V735.3 H434.2 V735.6 H436.4 V737.8 H438.5 V739.3 H446.5 V739.6 H450.2 V741.5 H451.3 V743.2 H452.4 V745.1 H453.5 V747.7 H454.5 V750.2 H455.7 V754.5" fill="none" stroke="#fa4040" stroke-width="1.1" stroke-linejoin="round"/>
<path d="M370.0 645.0 H370.6 V654.6 H371.2 V663.5 H372.8 V666.9 H374.0 V670.2 H376.2 V672.5 H377.3 V675.8 H377.9 V680.3 H378.7 V682.5 H379.6 V684.8 H380.7 V688.1 H382.4 V689.3 H383.5 V692.6 H385.2 V695.4 H385.7 V699.3 H387.9 V701.0 H389.1 V704.9 H390.2 V706.6 H391.3 V708.3 H392.4 V711.6 H394.1 V714.4 H395.8 V715.9 H397.5 V717.2 H399.7 V718.9 H401.4 V718.9 H402.5 V722.8 H404.2 V725.1 H405.3 V727.9 H406.5 V729.1 H408.3 V730.3 H410.2 V731.3 H413.1 V732.3 H421.8 V732.7 H424.0 V734.9 H426.2 V737.1 H435.6 V737.5 H437.8 V740.0 H439.3 V742.9 H441.5 V745.8 H443.6 V747.7 H453.1 V748.0 H456.0 V750.2 H458.2 V752.1 H460.4 V753.1 H472.7 V753.4 H474.2 V754.1" fill="none" stroke="#4040fa" stroke-width="1.1" stroke-linejoin="round"/>
<line x1="365.4" y1="645.3" x2="369.8" y2="645.3" stroke="#606060" stroke-width="1.2"/>
<text x="364.4" y="649.3" font-size="11.2" text-anchor="end" fill="#141414">100</text>
<line x1="365.4" y1="700.0" x2="369.8" y2="700.0" stroke="#606060" stroke-width="1.2"/>
<text x="364.4" y="704.0" font-size="11.2" text-anchor="end" fill="#141414">50</text>
<line x1="365.4" y1="754.7" x2="369.8" y2="754.7" stroke="#606060" stroke-width="1.2"/>
<text x="364.4" y="758.7" font-size="11.2" text-anchor="end" fill="#141414">0</text>
<line x1="369.8" y1="754.7" x2="369.8" y2="759.6" stroke="#606060" stroke-width="1.2"/>
<text x="369.8" y="771.9" font-size="11.2" text-anchor="middle" fill="#141414">0</text>
<line x1="393.98" y1="754.7" x2="393.98" y2="759.6" stroke="#606060" stroke-width="1.2"/>
<text x="393.98" y="771.9" font-size="11.2" text-anchor="middle" fill="#141414">2</text>
<line x1="418.16" y1="754.7" x2="418.16" y2="759.6" stroke="#606060" stroke-width="1.2"/>
<text x="418.16" y="771.9" font-size="11.2" text-anchor="middle" fill="#141414">4</text>
<line x1="442.34" y1="754.7" x2="442.34" y2="759.6" stroke="#606060" stroke-width="1.2"/>
<text x="442.34" y="771.9" font-size="11.2" text-anchor="middle" fill="#141414">6</text>
<line x1="466.52" y1="754.7" x2="466.52" y2="759.6" stroke="#606060" stroke-width="1.2"/>
<text x="466.52" y="771.9" font-size="11.2" text-anchor="middle" fill="#141414">8</text>
<line x1="490.7" y1="754.7" x2="490.7" y2="759.6" stroke="#606060" stroke-width="1.2"/>
<text x="490.7" y="771.9" font-size="11.2" text-anchor="middle" fill="#141414">10</text>
<text x="431" y="787.7" font-size="11.4" text-anchor="middle" fill="#141414">years</text>
<text x="337.9" y="692.9" font-size="11.6" text-anchor="middle" fill="#141414" transform="rotate(-90 337.9 692.9)">Probability of Survival</text>
<text x="400" y="671.6" font-size="12.15" fill="#141414"><tspan font-style="italic">P</tspan> = 0.1118</text>
<line x1="427.2" y1="691.0" x2="449.4" y2="691.0" stroke="#4040fa" stroke-width="1.1"/>
<line x1="427.2" y1="705.4" x2="449.4" y2="705.4" stroke="#fa4040" stroke-width="1.1"/>
<text x="456.6" y="694.8" font-size="12" fill="#141414"><tspan font-style="italic">ALOX12</tspan><tspan font-size="8" dy="-3.5">lo</tspan><tspan dy="3.5"> (n=64)</tspan></text>
<text x="456.6" y="709.3" font-size="12" fill="#141414"><tspan font-style="italic">ALOX12</tspan><tspan font-size="8" dy="-3.5">hi</tspan><tspan dy="3.5"> (n=58)</tspan></text>
</svg>
</body>
</html>
